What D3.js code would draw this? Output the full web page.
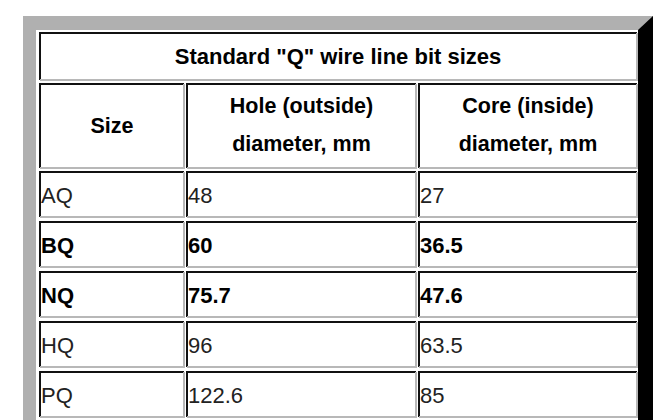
<!DOCTYPE html>
<html><head><meta charset="utf-8">
<script src="https://cdn.jsdelivr.net/npm/d3@7"></script>
<style>body{margin:0;background:#fff}</style>
</head><body>
<script>
var title = 'Standard "Q" wire line bit sizes';
var headers = [["Size"], ["Hole (outside)", "diameter, mm"], ["Core (inside)", "diameter, mm"]];
var sizes = ["AQ", "BQ", "NQ", "HQ", "PQ"];
var holeDiameters = ["48", "60", "75.7", "96", "122.6"];
var coreDiameters = ["27", "36.5", "47.6", "63.5", "85"];
var boldRows = [false, true, true, false, false];

var svg = d3.select("body").append("svg").attr("width", 669).attr("height", 420);
var font = "Liberation Sans, Arial, sans-serif";

// frame: gray top/left, black right
svg.append("rect").attr("x", 23).attr("y", 16).attr("width", 630).attr("height", 404).attr("fill", "#b0b0b0");
svg.append("polygon").attr("points", "638,30 653,16 653,420 638,420").attr("fill", "#000");
svg.append("rect").attr("x", 36).attr("y", 30).attr("width", 602).attr("height", 390).attr("fill", "#fff");

var colX = [40, 187, 419], colW = [144, 229, 218];
var rowY = d3.range(5).map(function(i) { return 172 + i * 50; });

function cell(x, y, w, h) {
    var g = svg.append("g");
    g.append("rect").attr("x", x).attr("y", y).attr("width", w).attr("height", h).attr("fill", "#fff");
    g.append("path").attr("d", "M" + x + "," + (y + h) + "V" + y + "H" + (x + w))
        .attr("stroke", "#111").attr("stroke-width", 2).attr("fill", "none");
    g.append("path").attr("d", "M" + (x + w) + "," + y + "V" + (y + h) + "H" + x)
        .attr("stroke", "#b8b8b8").attr("stroke-width", 2).attr("fill", "none");
    return g;
}

cell(40, 33, 597, 47).append("text").attr("x", 338).attr("y", 64).attr("text-anchor", "middle")
    .attr("font-family", font).attr("font-weight", "bold").attr("font-size", 22).text(title);

headers.forEach(function(lines, i) {
    var g = cell(colX[i], 84, colW[i], 84);
    var cx = colX[i] + colW[i] / 2;
    lines.forEach(function(t, j) {
        var y = lines.length === 1 ? 133 : 113 + j * 38;
        g.append("text").attr("x", cx).attr("y", y).attr("text-anchor", "middle")
            .attr("font-family", font).attr("font-weight", "bold").attr("font-size", 21.5).text(t);
    });
});

sizes.forEach(function(s, r) {
    var vals = [s, holeDiameters[r], coreDiameters[r]];
    vals.forEach(function(v, i) {
        cell(colX[i], rowY[r], colW[i], 45).append("text")
            .attr("x", colX[i] + 1).attr("y", rowY[r] + 31)
            .attr("font-family", font).attr("font-size", 22)
            .attr("font-weight", boldRows[r] ? "bold" : "normal")
            .attr("fill", boldRows[r] ? "#000" : "#222").text(v);
    });
});
</script>
</body></html>
